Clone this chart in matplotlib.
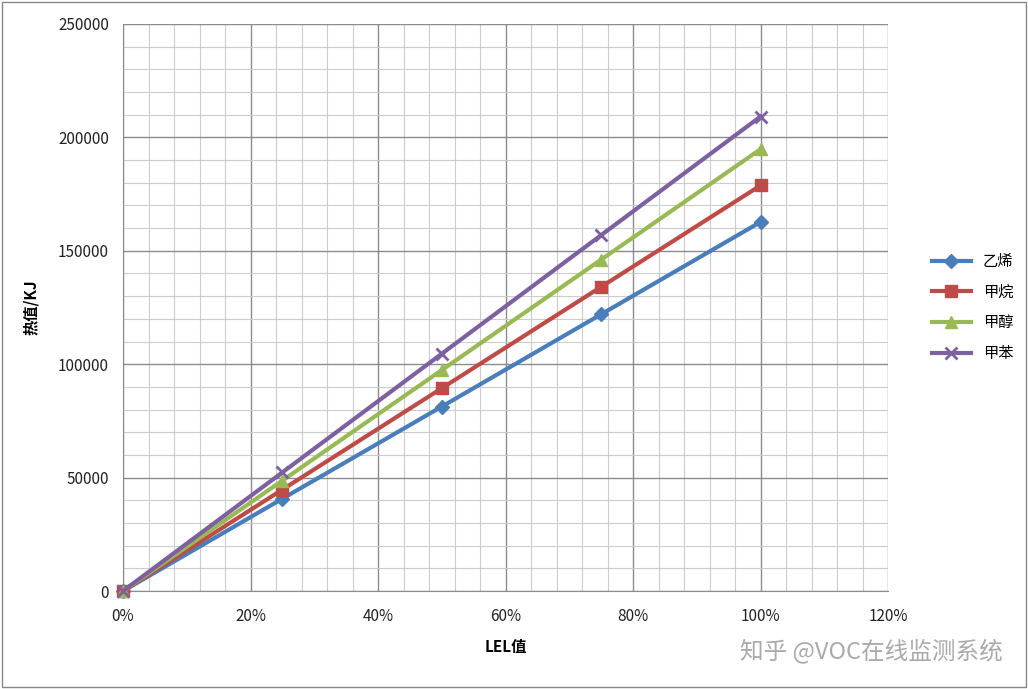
import matplotlib
matplotlib.use("Agg")
import matplotlib.pyplot as plt
from matplotlib.ticker import MultipleLocator, PercentFormatter
from matplotlib.patches import Rectangle

plt.rcParams["font.family"] = ["Noto Sans CJK SC", "DejaVu Sans"]

lel = [0, 0.25, 0.5, 0.75, 1.0]
ethylene = [0, 40700, 81300, 122000, 162700]
methane = [0, 44700, 89400, 134100, 178800]
methanol = [0, 48700, 97400, 146100, 194800]
toluene = [0, 52300, 104600, 156900, 209200]
names = ["乙烯", "甲烷", "甲醇", "甲苯"]

series = [
    (ethylene, "#4a7ebb", "D", 7),
    (methane, "#be4b48", "s", 9),
    (methanol, "#98b954", "^", 9),
    (toluene, "#7d60a0", "x", 9),
]

fig = plt.figure(figsize=(10.28, 6.89), dpi=100)
ax = fig.add_axes([123 / 1028, 1 - 591 / 689, (888 - 123) / 1028, (591 - 24) / 689])

for (vals, col, mk, ms), name in zip(series, names):
    ax.plot(lel, vals, color=col, lw=3, marker=mk, ms=ms, mew=2 if mk == "x" else 1,
            label=name, clip_on=False, zorder=3)

ax.set_xlim(0, 1.2)
ax.set_ylim(0, 250000)
ax.xaxis.set_major_locator(MultipleLocator(0.2))
ax.xaxis.set_minor_locator(MultipleLocator(0.04))
ax.yaxis.set_major_locator(MultipleLocator(50000))
ax.yaxis.set_minor_locator(MultipleLocator(10000))
ax.xaxis.set_major_formatter(PercentFormatter(1.0, decimals=0))
ax.grid(which="major", color="#8c8c8c", lw=1)
ax.grid(which="minor", color="#cccccc", lw=0.8)
ax.set_axisbelow(True)
ax.tick_params(which="both", length=0, labelsize=11, colors="#222222")
ax.tick_params(axis="y", pad=10)
ax.tick_params(axis="x", pad=12)
for s in ["top", "right"]:
    ax.spines[s].set_visible(False)
for s in ["left", "bottom"]:
    ax.spines[s].set_color("#8c8c8c")

ax.set_xlabel("LEL值", fontsize=11, fontweight="bold", labelpad=10)
ax.set_ylabel("热值/KJ", fontsize=11, fontweight="bold", labelpad=14)

ax.legend(loc="center left", bbox_to_anchor=(1.04, 0.5), frameon=False,
          fontsize=11, handlelength=2.5, labelspacing=0.9)

fig.patches.append(Rectangle((0.002, 0.003), 0.996, 0.994, transform=fig.transFigure,
                             fill=False, edgecolor="#888888", lw=1))
fig.text(0.975, 0.055, "知乎 @VOC在线监测系统", ha="right", va="center",
         fontsize=17, color="#aaaaaa")

fig.savefig("out.png", dpi=100)
